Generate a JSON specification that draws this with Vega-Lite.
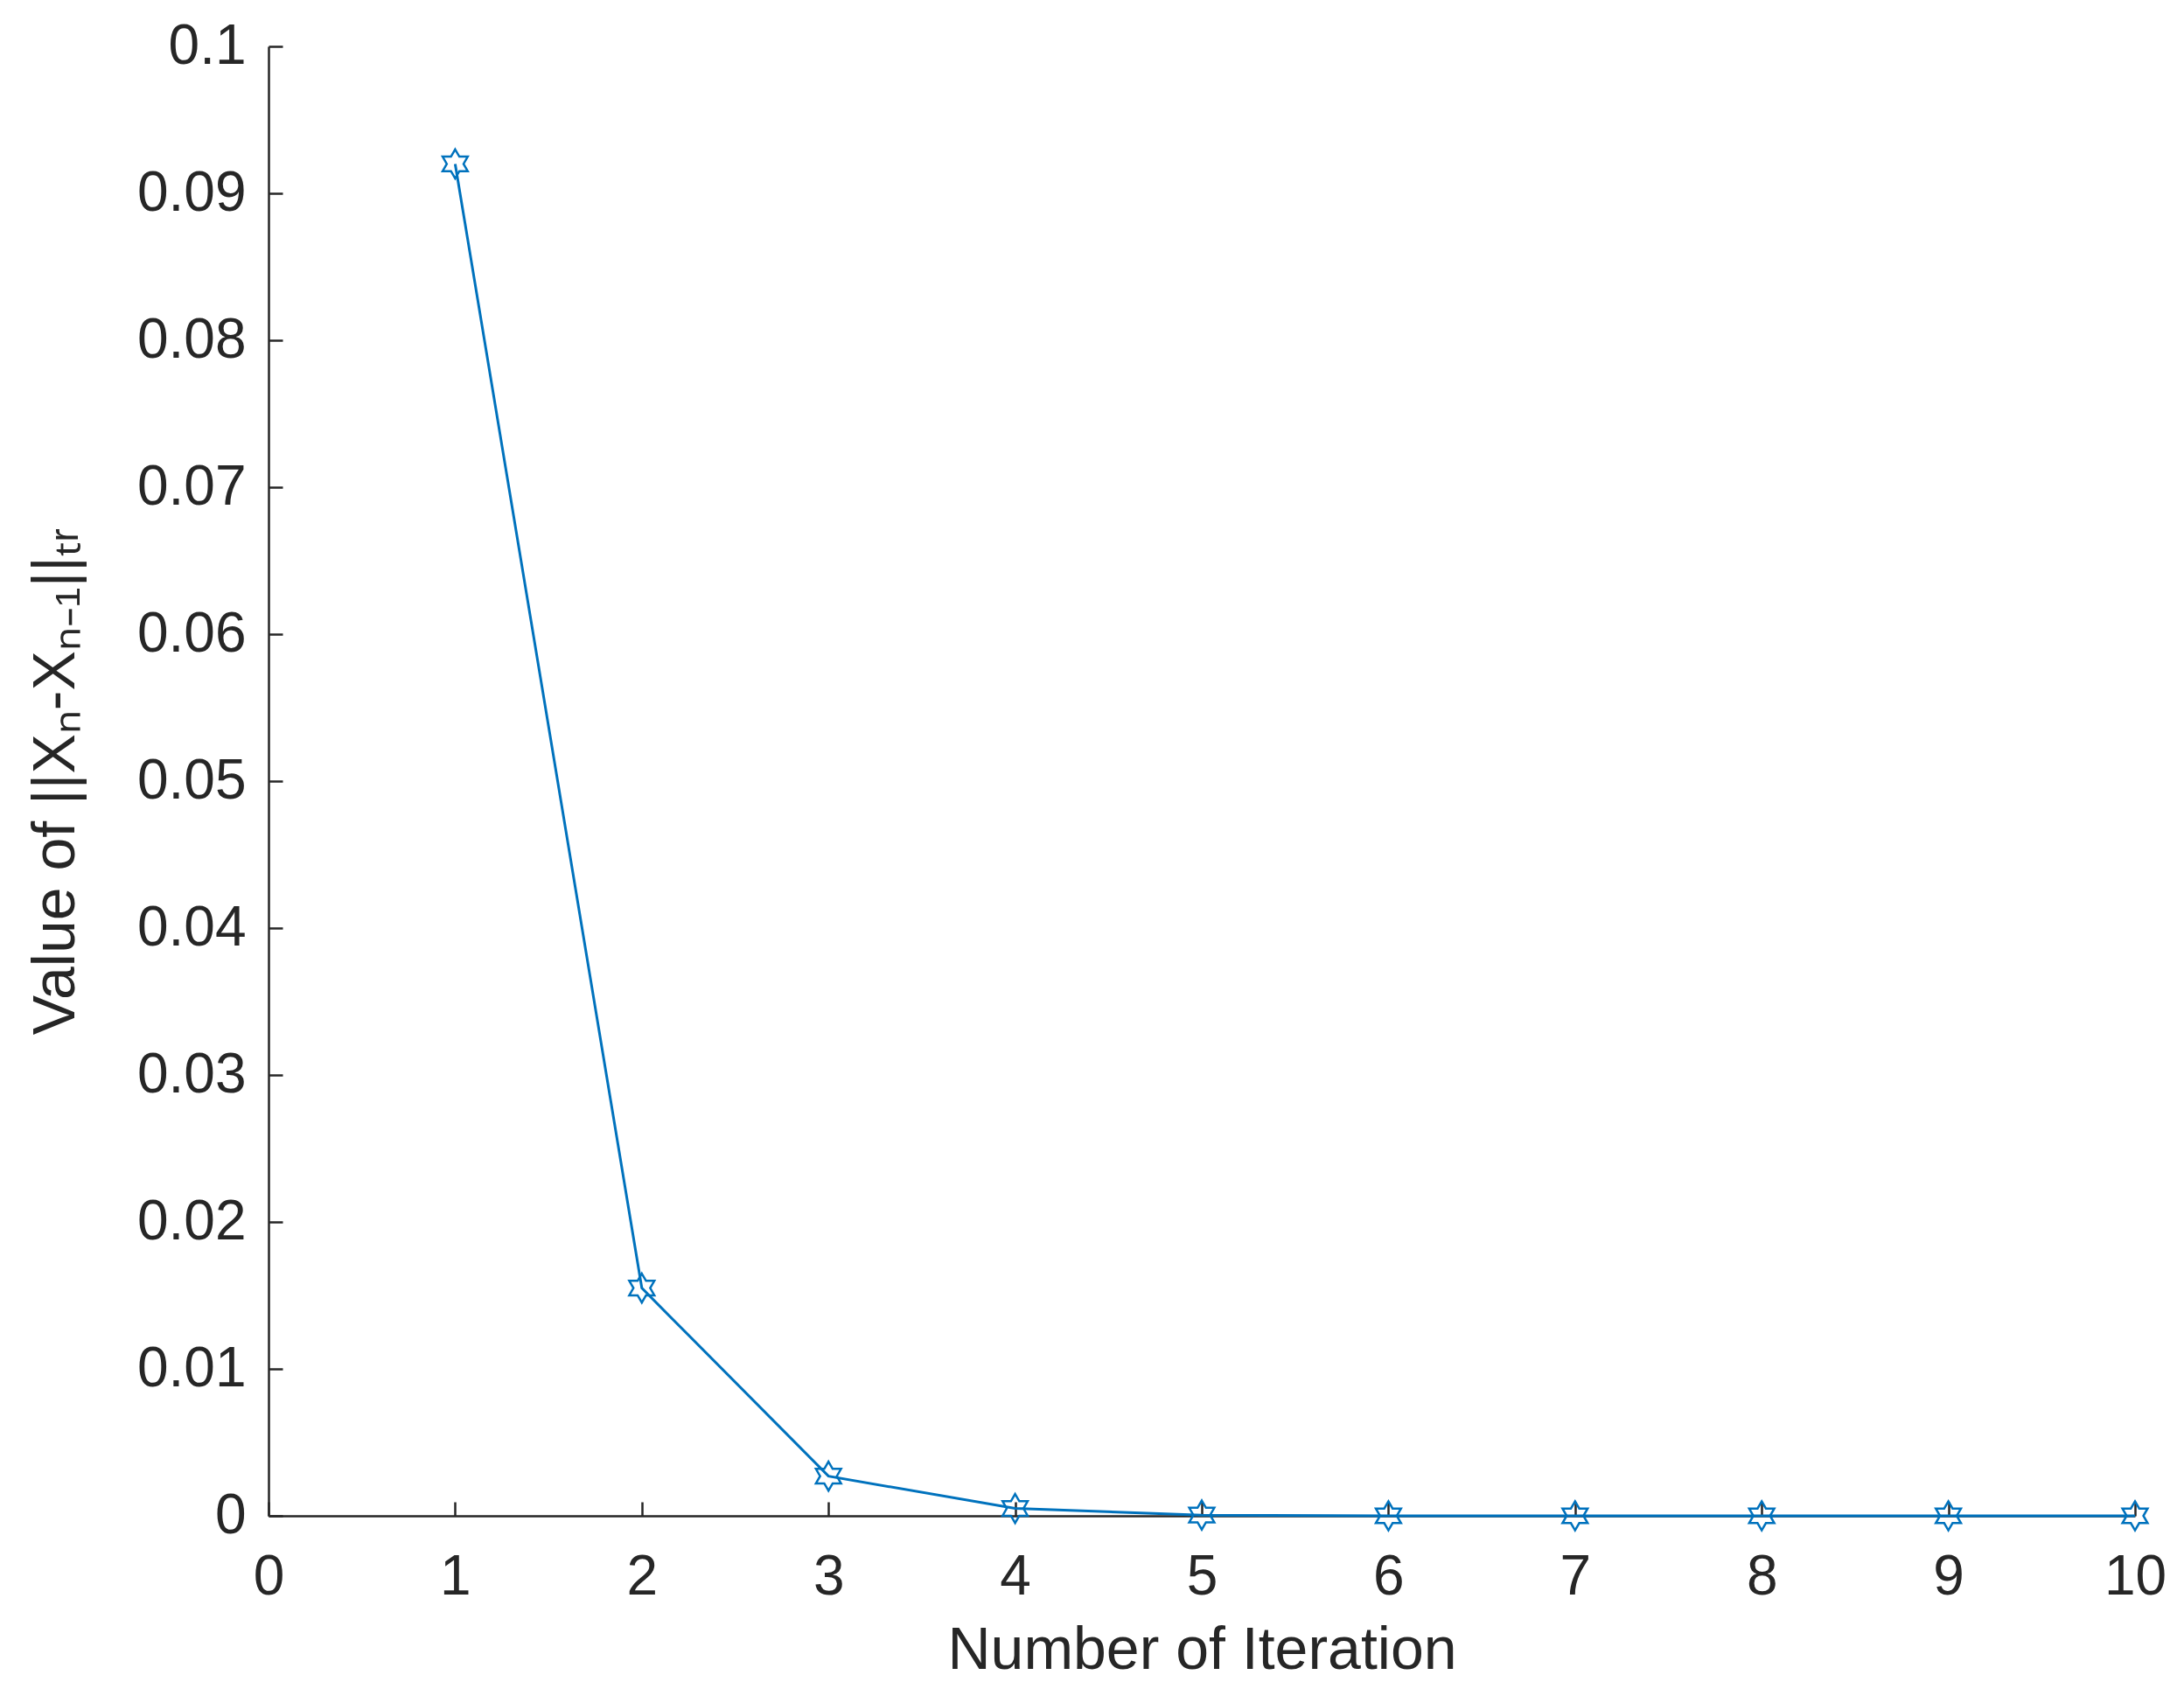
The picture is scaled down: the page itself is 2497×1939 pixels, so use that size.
{
  "$schema": "https://vega.github.io/schema/vega-lite/v6.json",
  "autosize": "none",
  "padding": {"left": 307, "top": 53, "right": 56, "bottom": 206},
  "width": 2134,
  "height": 1680,
  "background": "white",
  "config": {
    "font": "Liberation Sans",
    "view": {"stroke": null},
    "axis": {
      "domainColor": "#262626",
      "domainWidth": 2.5,
      "tickColor": "#262626",
      "tickWidth": 2.5,
      "tickSize": -16,
      "labelColor": "#262626",
      "labelFontSize": 64,
      "labelFont": "Liberation Sans",
      "labelFlush": false,
      "labelOverlap": false,
      "titleColor": "#262626",
      "titleFontSize": 68,
      "titleFont": "Liberation Sans",
      "titleFontWeight": "normal",
      "grid": false
    }
  },
  "data": {
    "values": [
      {"iter": 1, "value": 0.092},
      {"iter": 2, "value": 0.0155},
      {"iter": 3, "value": 0.0027},
      {"iter": 4, "value": 0.0005},
      {"iter": 5, "value": 0.00005},
      {"iter": 6, "value": 0.0},
      {"iter": 7, "value": 0.0},
      {"iter": 8, "value": 0.0},
      {"iter": 9, "value": 0.0},
      {"iter": 10, "value": 0.0}
    ]
  },
  "encoding": {
    "x": {
      "field": "iter",
      "type": "quantitative",
      "scale": {"domain": [0, 10], "nice": false},
      "axis": {
        "title": "Number of Iteration",
        "values": [0, 1, 2, 3, 4, 5, 6, 7, 8, 9, 10],
        "labelPadding": 54,
        "titlePadding": 18
      }
    },
    "y": {
      "field": "value",
      "type": "quantitative",
      "scale": {"domain": [0, 0.1], "nice": false},
      "axis": {
        "title": "Value of ||Xₙ-Xₙ₋₁||ₜᵣ",
        "values": [0, 0.01, 0.02, 0.03, 0.04, 0.05, 0.06, 0.07, 0.08, 0.09, 0.1],
        "format": "~g",
        "labelPadding": 42,
        "titlePadding": 58,
        "titleY": 840
      }
    }
  },
  "layer": [
    {
      "mark": {"type": "line", "color": "#0072BD", "strokeWidth": 3}
    },
    {
      "mark": {
        "type": "point",
        "shape": "M0,-1L0.289,-0.5L0.866,-0.5L0.577,0L0.866,0.5L0.289,0.5L0,1L-0.289,0.5L-0.866,0.5L-0.577,0L-0.866,-0.5L-0.289,-0.5Z",
        "size": 1100,
        "filled": false,
        "color": "#0072BD",
        "strokeWidth": 2.5,
        "opacity": 1
      }
    }
  ]
}
